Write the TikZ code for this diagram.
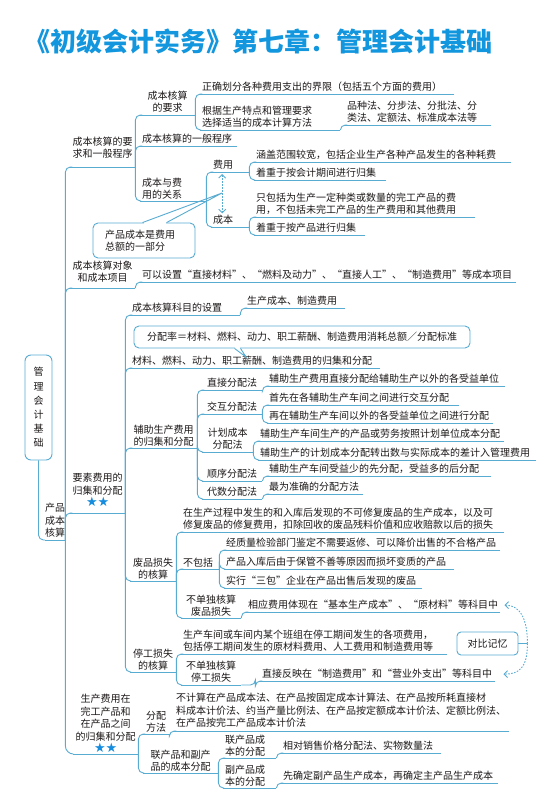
\documentclass[tikz,border=0pt]{standalone}
\usepackage{fontspec}
\setmainfont{Noto Sans CJK SC}
\newfontfamily\symfont{DejaVu Sans}
\usetikzlibrary{arrows.meta}

\definecolor{mapline}{RGB}{88,172,210}
\definecolor{titleblue}{RGB}{18,150,222}
\definecolor{starblue}{RGB}{22,140,222}
\definecolor{ink}{RGB}{30,25,25}
\newcommand{\stars}{{\symfont\fontsize{13}{12.5}\selectfont\color{starblue}★★}}

\begin{document}
\begin{tikzpicture}[x=1pt, y=-1pt, topic/.style={anchor=south west, inner xsep=2pt, inner ysep=2pt, text=ink, font=\fontsize{10}{12.5}\selectfont}, leaf/.style={topic, text width=#1, align=left}, lab/.style={topic, text width=#1, align=center}, branch/.style={draw=mapline, line width=0.9pt, rounded corners=5pt}, pointer/.style={draw=mapline, line width=0.9pt}, bubble/.style={draw=mapline, line width=0.9pt, rounded corners=5pt, text=ink, font=\fontsize{10}{12.5}\selectfont}, hint/.style={draw=mapline, line width=0.9pt, dash pattern=on 1.5pt off 1.5pt, >={Straight Barb[length=3.5pt,width=7pt]}}]
	\fill[white] (0,0) rectangle (558,810);
	\useasboundingbox (0,0) rectangle (558,810);

	% title and root
	\node[text=titleblue, font=\bfseries\fontsize{26}{30}\selectfont] (title) at (258,41) {《初级会计实务》第七章：管理会计基础}; %
	\node[bubble, rounded corners=6pt, minimum width=27pt, minimum height=105pt, align=center, font=\fontsize{10}{14.2}\selectfont] (root) at (38.5,407.5) {管\\理\\会\\计\\基\\础}; %
	\node[lab=20pt, inner xsep=0pt] (prodcost) at (45,540) {产品\\成本\\核算}; %

	% cost accounting requirements
	\node[lab=61pt, inner ysep=8pt] (reqproc) at (70,167) {成本核算的要\\求和一般程序}; %
	\node[lab=51pt] (req) at (140,115) {成本核算\\的要求}; %
	\node[leaf=250pt] (req1) at (200,94) {正确划分各种费用支出的界限（包括五个方面的费用）}; %
	\node[leaf=136pt] (req2) at (200,130) {根据生产特点和管理要求\\选择适当的成本计算方法}; %
	\node[leaf=142pt] (req2a) at (345,125) {品种法、分步法、分批法、分\\类法、定额法、标准成本法等}; %
	\node[leaf=93pt] (proc) at (140,146) {成本核算的一般程序}; %
	\node[leaf=62pt, inner ysep=1pt] (rel) at (140,201) {成本与费\\用的关系}; %
	\node[leaf=34pt] (fee) at (211,172) {费用}; %
	\node[leaf=253pt] (fee1) at (254,162) {涵盖范围较宽，包括企业生产各种产品发生的各种耗费}; %
	\node[leaf=128pt] (fee2) at (254,180) {着重于按会计期间进行归集}; %
	\node[leaf=34pt] (cost) at (211,227) {成本}; %
	\node[leaf=217pt] (cost1) at (254,217) {只包括为生产一定种类或数量的完工产品的费\\用，不包括未完工产品的生产费用和其他费用}; %
	\node[leaf=107pt] (cost2) at (254,235) {着重于按产品进行归集}; %
	\node[bubble, text width=78pt, inner xsep=12pt, minimum height=35pt, align=left] (note) at (144,240.5) {产品成本是费用\\总额的一部分}; %
	\coordinate (notetip) at (222,193);

	% cost objects
	\node[lab=61pt, inner ysep=5pt] (obj) at (70,288) {成本核算对象\\和成本项目}; %
	\node[leaf=372pt] (obj1) at (140,282) {可以设置“直接材料”、“燃料及动力”、“直接人工”、“制造费用”等成本项目}; %

	% element expenses
	\node[lab=51pt, inner ysep=6pt] (elem) at (70,513) {要素费用的\\归集和分配\\\stars}; %
	\node[leaf=106pt] (acct) at (130,315) {成本核算科目的设置}; %
	\node[leaf=96pt] (acct1) at (245,308) {生产成本、制造费用}; %
	\node[bubble, minimum width=336pt, minimum height=22pt] (rate) at (302,337) {分配率＝材料、燃料、动力、职工薪酬、制造费用消耗总额／分配标准}; %
	\coordinate (ratetip) at (246,357);
	\node[leaf=246pt] (mat) at (130,368) {材料、燃料、动力、职工薪酬、制造费用的归集和分配}; %
	\node[lab=63pt, inner ysep=1pt] (aux) at (130,448) {辅助生产费用\\的归集和分配}; %
	\node[lab=56pt] (direct) at (202,390) {直接分配法}; %
	\node[leaf=234pt] (direct1) at (267,386) {辅助生产费用直接分配给辅助生产以外的各受益单位}; %
	\node[lab=56pt] (mutual) at (202,414) {交互分配法}; %
	\node[leaf=188pt] (mutual1) at (267,405) {首先在各辅助生产车间之间进行交互分配}; %
	\node[leaf=222pt] (mutual2) at (267,423) {再在辅助生产车间以外的各受益单位之间进行分配}; %
	\node[lab=47pt] (plan) at (202,452) {计划成本\\分配法}; %
	\node[leaf=242pt] (plan1) at (258,441) {辅助生产车间生产的产品或劳务按照计划单位成本分配}; %
	\node[leaf=274pt] (plan2) at (258,460) {辅助生产的计划成本分配转出数与实际成本的差计入管理费用}; %
	\node[lab=56pt] (seq) at (202,481) {顺序分配法}; %
	\node[leaf=220pt] (seq1) at (267,476) {辅助生产车间受益少的先分配，受益多的后分配}; %
	\node[lab=56pt] (alg) at (202,499) {代数分配法}; %
	\node[leaf=92pt] (alg1) at (267,494) {最为准确的分配方法}; %

	% scrap losses
	\node[lab=42pt, inner ysep=1pt] (scrap) at (130,581) {废品损失\\的核算}; %
	\node[leaf=319pt] (scrap1) at (181,532) {在生产过程中发生的和入库后发现的不可修复废品的生产成本，以及可\\修复废品的修复费用，扣除回收的废品残料价值和应收赔款以后的损失}; %
	\node[leaf=34pt] (excl) at (181,569) {不包括}; %
	\node[leaf=272pt] (excl1) at (224,550) {经质量检验部门鉴定不需要返修、可以降价出售的不合格产品}; %
	\node[leaf=226pt] (excl2) at (224,569) {产品入库后由于保管不善等原因而损坏变质的产品}; %
	\node[leaf=194pt] (excl3) at (224,588) {实行“三包”企业在产品出售后发现的废品}; %
	\node[lab=56pt, inner ysep=1pt] (scrapno) at (181,618) {不单独核算\\废品损失}; %
	\node[leaf=250pt] (scrapno1) at (246,612) {相应费用体现在“基本生产成本”、“原材料”等科目中}; %

	% stoppage losses
	\node[lab=42pt, inner ysep=1pt] (stop) at (130,672) {停工损失\\的核算}; %
	\node[leaf=262pt] (stop1) at (181,654) {生产车间或车间内某个班组在停工期间发生的各项费用，\\包括停工期间发生的原材料费用、人工费用和制造费用等}; %
	\node[lab=56pt] (stopno) at (181,685) {不单独核算\\停工损失}; %
	\node[leaf=231pt] (stopno1) at (260,681) {直接反映在“制造费用”和“营业外支出”等科目中}; %
	\node[bubble, rounded corners=4pt, minimum width=61pt, minimum height=23pt] (memo) at (487.5,643.5) {对比记忆}; %

	% finished and unfinished products
	\node[lab=61pt, inner ysep=1pt] (split) at (73,754) {生产费用在\\完工产品和\\在产品之间\\的归集和分配\\\stars}; %
	\node[lab=22pt, inner ysep=1pt] (method) at (143,734) {分配\\方法}; %
	\node[leaf=331pt, inner ysep=3pt] (method1) at (174,731) {不计算在产品成本法、在产品按固定成本计算法、在产品按所耗直接材\\料成本计价法、约当产量比例法、在产品按定额成本计价法、定额比例法、\\在产品按完工产品成本计价法}; %
	\node[lab=71pt, inner ysep=1pt] (joint) at (143,773) {联产品和副产\\品的成本分配}; %
	\node[leaf=49pt, inner ysep=1pt] (jointa) at (223,758) {联产品成\\本的分配}; %
	\node[leaf=156pt] (jointa1) at (281,753) {相对销售价格分配法、实物数量法}; %
	\node[leaf=49pt, inner ysep=1pt] (jointb) at (223,788) {副产品成\\本的分配}; %
	\node[leaf=213pt] (jointb1) at (281,783) {先确定副产品生产成本，再确定主产品生产成本}; %

	% underlines
	\foreach \n in {prodcost, reqproc, req, req1, req2, req2a, proc, rel, fee, fee1, fee2, cost, cost1, cost2, obj, obj1, elem, acct, acct1, mat, aux, direct, direct1, mutual, mutual1, mutual2, plan, plan1, plan2, seq, seq1, alg, alg1, scrap, scrap1, excl, excl1, excl2, excl3, scrapno, scrapno1, stop, stop1, stopno, stopno1, split, method, method1, joint, jointa, jointa1, jointb, jointb1}
		\draw[branch] (\n.south west) -- (\n.south east);

	% edges
	\draw[branch] (root.south) |- (prodcost.south west);
	\draw[branch, rounded corners=8pt] (prodcost.south east) |- (split.south west);
	\foreach \a/\b in {prodcost/reqproc, prodcost/obj, prodcost/elem, reqproc/req, reqproc/proc, reqproc/rel, req/req1, req/req2, req2/req2a, rel/fee, rel/cost, fee/fee1, fee/fee2, cost/cost1, cost/cost2, obj/obj1, elem/acct, elem/mat, elem/aux, elem/scrap, elem/stop, acct/acct1, aux/direct, aux/mutual, aux/plan, aux/seq, aux/alg, direct/direct1, mutual/mutual1, mutual/mutual2, plan/plan1, plan/plan2, seq/seq1, alg/alg1, scrap/scrap1, scrap/excl, scrap/scrapno, excl/excl1, excl/excl2, excl/excl3, scrapno/scrapno1, stop/stop1, stop/stopno, split/method, split/joint, method/method1, joint/jointa, joint/jointb, jointa/jointa1, jointb/jointb1}
		\draw[branch] (\a.south east) |- (\b.south west);
	\draw[branch] (stopno.south east) -- ++(14,0) |- (stopno1.south west);

	% callouts
	\draw[hint, <->] ([xshift=-8pt, yshift=-2pt]fee.south) -- ([xshift=-8pt]cost.north);
	\draw[white, line width=2pt] ([xshift=51pt]note.north west) -- ([xshift=73pt]note.north west);
	\draw[pointer] ([xshift=50pt]note.north west) -- (notetip) -- ([xshift=74pt]note.north west);
	\draw[white, line width=2pt] ([xshift=101.5pt]rate.south west) -- ([xshift=106.5pt]rate.south west);
	\draw[pointer] ([xshift=101pt]rate.south west) -- (ratetip) -- ([xshift=107pt]rate.south west);
	\draw[branch] (memo.east) -- ++(9,0) coordinate (hub);
	\draw[hint, ->] (hub) .. controls +(0,-24) and +(16,0) .. ([xshift=4pt]scrapno1.east);
	\draw[hint, ->] (hub) .. controls +(0,24) and +(16,0) .. ([xshift=8pt]stopno1.east);
\end{tikzpicture}
\end{document}
